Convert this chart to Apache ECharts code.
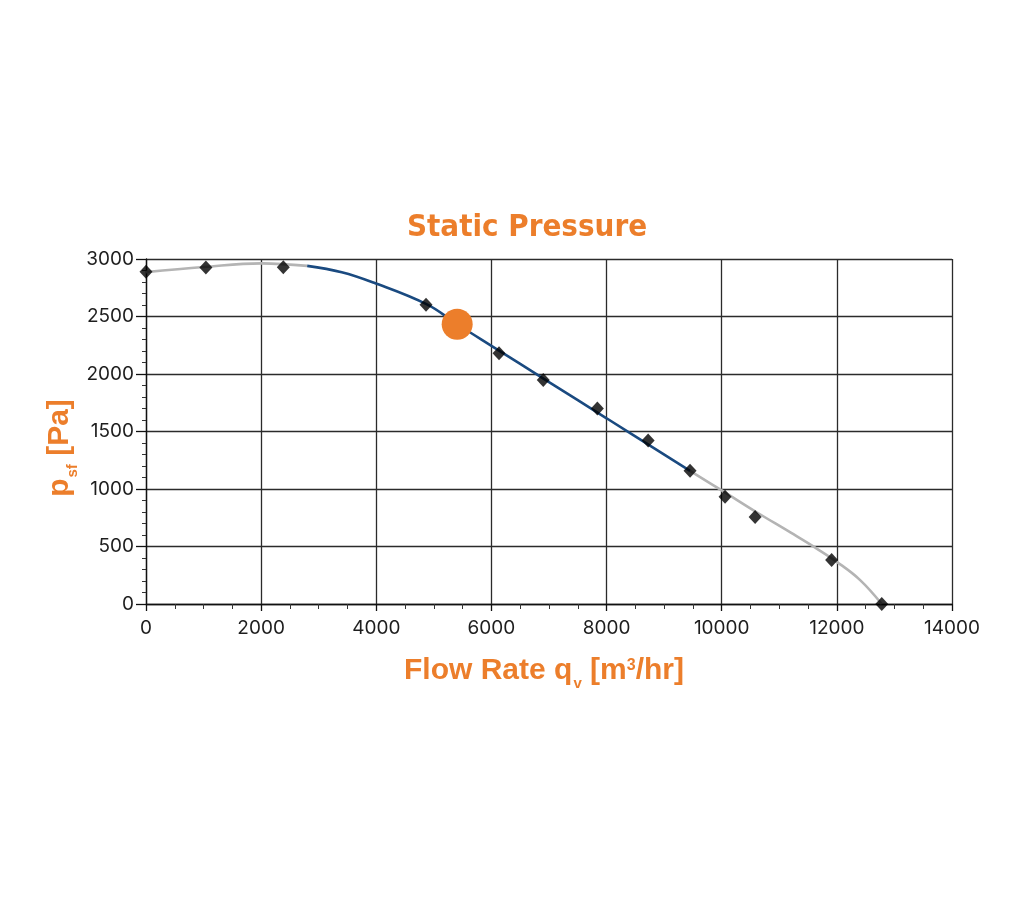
<!DOCTYPE html>
<html>
<head>
<meta charset="utf-8">
<script src="https://cdn.jsdelivr.net/npm/echarts@6/dist/echarts.min.js"></script>
<style>html,body{margin:0;padding:0;background:#fff}#c{width:1024px;height:907px}</style>
</head>
<body>
<div id="c"></div>
<script>
// ---- data ----
const chartTitle = 'Static Pressure';
const xAxisTitle = ['Flow Rate q', 'v', ' [m', '3', '/hr]'];
const yAxisTitle = ['p', 'sf', ' [Pa]'];
const xRange = [0, 14000, 2000];
const yRange = [0, 3000, 500];
// fitted fan curve, split into three parts (low flow / working range / high flow)
const curveLowFlow = [[0, 2886], [1000, 2930], [2000, 2962], [2800, 2940]];
const curveWorking = [[2800, 2940], [3400, 2885], [3950, 2795], [4880, 2605], [5400, 2435], [6000, 2245], [7000, 1930], [8000, 1615], [9450, 1157]];
const curveHighFlow = [[9450, 1157], [10000, 988], [10600, 800], [11200, 620], [11650, 482], [12000, 366], [12400, 210], [12780, 0]];
// measured points
const measuredFlow = [0, 1040, 2385, 4864, 6132, 6900, 7840, 8722, 9450, 10058, 10580, 11909, 12780];
const measuredPressure = [2890, 2927, 2928, 2602, 2181, 1948, 1700, 1422, 1158, 933, 757, 383, 0];
// operating point
const operatingPoint = [5405, 2432];

const ORANGE = '#EC7E2B';
const measured = measuredFlow.map((x, i) => [x, measuredPressure[i]]);

const chart = echarts.init(document.getElementById('c'), null, {renderer: 'canvas'});
const axisCommon = {
  type: 'value',
  axisLine: {show: true, onZero: false, lineStyle: {color: '#111', width: 1.3}},
  splitLine: {show: true, lineStyle: {color: '#2b2b2b', width: 1.3}},
  axisLabel: {color: '#1e1e1e', fontFamily: 'Inter', fontSize: 19, formatter: v => String(v)},
};
chart.setOption({
  animation: false,
  backgroundColor: '#fff',
  grid: {left: 146, right: 72, top: 259, bottom: 303, containLabel: false},
  xAxis: Object.assign({}, axisCommon, {
    min: xRange[0], max: xRange[1], interval: xRange[2],
    axisTick: {show: true, length: 7, lineStyle: {color: '#111', width: 1.3}},
    minorTick: {show: true, splitNumber: 4, length: 5, lineStyle: {color: '#333', width: 1}},
    axisLabel: Object.assign({}, axisCommon.axisLabel, {margin: 15})
  }),
  yAxis: Object.assign({}, axisCommon, {
    min: yRange[0], max: yRange[1], interval: yRange[2],
    axisTick: {show: true, length: 10, lineStyle: {color: '#111', width: 1.3}},
    minorTick: {show: true, splitNumber: 5, length: 4, lineStyle: {color: '#333', width: 1}},
    axisLabel: Object.assign({}, axisCommon.axisLabel, {margin: 12})
  }),
  graphic: [
    {type: 'text', x: 527, y: 228, z: 10,
     style: {text: chartTitle, align: 'center', verticalAlign: 'middle', fill: ORANGE,
             font: 'bold 31px "DejaVu Sans Condensed", "Liberation Sans Narrow", sans-serif'}},
    {type: 'text', x: 544, y: 671, z: 10,
     style: {text: '{a|' + xAxisTitle[0] + '}{s|' + xAxisTitle[1] + '}{a|' + xAxisTitle[2] + '}{p|' + xAxisTitle[3] + '}{a|' + xAxisTitle[4] + '}',
             align: 'center', verticalAlign: 'middle',
             rich: {
               a: {fontSize: 30, fontWeight: 'bold', fontFamily: 'Liberation Sans', fill: ORANGE, lineHeight: 30},
               s: {fontSize: 15, fontWeight: 'bold', fontFamily: 'Liberation Sans', fill: ORANGE, lineHeight: 15, verticalAlign: 'top', padding: [20, 0, 0, 1]},
               p: {fontSize: 16, fontWeight: 'bold', fontFamily: 'Liberation Sans', fill: ORANGE, lineHeight: 16, verticalAlign: 'top', padding: [2, 0, 0, 0]}
             }}},
    {type: 'text', x: 60, y: 448, rotation: Math.PI / 2, z: 10,
     style: {text: '{a|' + yAxisTitle[0] + '}{s|' + yAxisTitle[1] + '}{a|' + yAxisTitle[2] + '}',
             align: 'center', verticalAlign: 'middle',
             rich: {
               a: {fontSize: 30, fontWeight: 'bold', fontFamily: 'Liberation Sans', fill: ORANGE, lineHeight: 30},
               s: {fontSize: 15, fontWeight: 'bold', fontFamily: 'Liberation Sans', fill: ORANGE, lineHeight: 15, verticalAlign: 'top', padding: [20, 0, 0, 1]}
             }}}
  ],
  series: [
    {type: 'line', data: curveLowFlow, symbol: 'none', smooth: 0.4,
     lineStyle: {color: '#b4b4b4', width: 2.6}, z: 2},
    {type: 'line', data: curveWorking, symbol: 'none', smooth: 0.4,
     lineStyle: {color: '#1a4a80', width: 2.6}, z: 3},
    {type: 'line', data: curveHighFlow, symbol: 'none', smooth: 0.4,
     lineStyle: {color: '#b4b4b4', width: 2.6}, z: 2},
    {type: 'scatter', data: measured, symbol: 'diamond', symbolSize: [13, 14],
     itemStyle: {color: '#000'}, z: 5},
    {type: 'scatter', data: [operatingPoint], symbol: 'circle', symbolSize: 31,
     itemStyle: {color: ORANGE, opacity: 1}, z: 6}
  ]
});
</script>
</body>
</html>
